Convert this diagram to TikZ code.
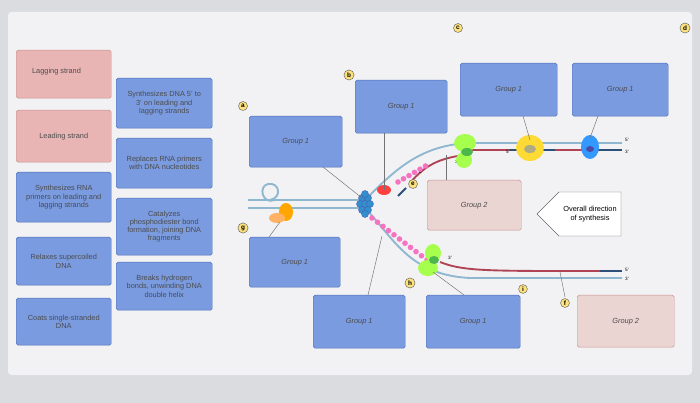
\documentclass[tikz,border=0pt]{standalone}
\usepackage{fontspec}
\setmainfont{Liberation Sans}
\usetikzlibrary{shapes.arrows}
\definecolor{bg}{HTML}{DADCE0}
\definecolor{pnl}{HTML}{F2F2F4}
\definecolor{bbox}{HTML}{7A9BE0}
\definecolor{bbd}{HTML}{4D6FB8}
\definecolor{pbox}{HTML}{E9B4B4}
\definecolor{pbd}{HTML}{C89090}
\definecolor{gbox}{HTML}{EBD5D2}
\definecolor{strand}{HTML}{8FB7CF}
\definecolor{newr}{HTML}{B04455}
\definecolor{newb}{HTML}{2E4F7A}
\begin{document}
\begin{tikzpicture}[x=0.03cm,y=-0.03cm,
 font=\fontsize{6.3}{7}\selectfont,
 blue/.style={draw=bbd,fill=bbox,rounded corners=1.5,align=center,text=black!70,inner sep=1pt},
 pink/.style={draw=pbd,fill=pbox,rounded corners=1.5,align=center,text=black!70},
 grp2/.style={draw=pbd,fill=gbox,rounded corners=1.5,align=center,text=black!70},
 lbl/.style={circle,draw=black!60,fill=yellow!60!orange!50,inner sep=1.2pt,font=\fontsize{5.5}{6}\selectfont\bfseries},
 sm/.style={font=\fontsize{4}{4}\selectfont},
 lead/.style={draw=black!55,line width=0.4pt}]
\fill[bg] (0,0) rectangle (700,403);
\useasboundingbox (0,0) rectangle (700,403);
\fill[pnl,rounded corners=3] (8,12) rectangle (692,375);
% left column
\node[pink,minimum width=95*0.03cm,minimum height=48*0.03cm,anchor=north west] (lag) at (16,50) {};
\node[text=black!70,anchor=north west] at (28,64) {Lagging strand};
\node[pink,minimum width=95*0.03cm,minimum height=52*0.03cm,anchor=north west] (leadn) at (16,110) {Leading strand};
\node[blue,minimum width=95*0.03cm,minimum height=50*0.03cm,anchor=north west] (w1) at (16,172) {Synthesizes RNA\\primers on leading and\\lagging strands};
\node[blue,minimum width=95*0.03cm,minimum height=48*0.03cm,anchor=north west] (w2) at (16,237) {Relaxes supercoiled\\DNA};
\node[blue,minimum width=95*0.03cm,minimum height=47*0.03cm,anchor=north west] (w3) at (16,298) {Coats single-stranded\\DNA};
\node[blue,minimum width=96*0.03cm,minimum height=50*0.03cm,anchor=north west] (w4) at (116,78) {Synthesizes DNA 5' to\\3' on leading and\\lagging strands};
\node[blue,minimum width=96*0.03cm,minimum height=50*0.03cm,anchor=north west] (w5) at (116,138) {Replaces RNA primers\\with DNA nucleotides};
\node[blue,minimum width=96*0.03cm,minimum height=57*0.03cm,anchor=north west] (w6) at (116,198) {Catalyzes\\phosphodiester bond\\formation, joining DNA\\fragments};
\node[blue,minimum width=96*0.03cm,minimum height=48*0.03cm,anchor=north west] (w7) at (116,262) {Breaks hydrogen\\bonds, unwinding DNA\\double helix};
% DNA strands
\draw[strand,line width=1.6pt] (248,200) -- (365,200) .. controls (395,170) and (420,145) .. (470,143) -- (622,143);
\draw[strand,line width=1.6pt] (248,208) -- (365,208) .. controls (395,240) and (410,275) .. (470,278) -- (622,278);
\draw[strand,line width=1.6pt] (275,200) .. controls (262,205) and (258,186) .. (268,184) .. controls (280,182) and (282,198) .. (270,200);
\draw[newr,line width=1.6pt] (470,150) -- (622,150);
\draw[newb,line width=1.6pt] (510,150) -- (555,150);
\draw[newb,line width=1.6pt] (595,150) -- (622,150);
\draw[newr,line width=1.6pt] (410,183) .. controls (425,165) and (440,158) .. (465,155);
\draw[newb,line width=1.6pt] (398,196) -- (406,188);
\draw[newr,line width=1.6pt] (440,262) .. controls (460,270) and (480,271) .. (560,271) -- (600,271);
\draw[newb,line width=1.6pt] (600,271) -- (622,271);
\node[sm] at (627,140) {5'};
\node[sm] at (627,152) {3'};
\node[sm] at (627,270) {5'};
\node[sm] at (627,279) {3'};
\node[sm] at (508,152) {5'};
\node[sm] at (457,162) {3'};
\node[sm] at (421,172) {5'};
\node[sm] at (450,258) {3'};
% proteins
\fill[orange!70!yellow] (286,212) ellipse (7 and 9);
\fill[orange!60] (277,218) ellipse (8 and 5);
\foreach \dx/\dy in {-3/-6,3/-6,-5/0,0/0,5/0,-3/6,3/6,0/-10,0/10}
  \fill[blue!40!cyan!60!gray,draw=blue!40!gray,line width=0.2pt] (365+\dx,204+\dy) circle (3.6);
\fill[red!75] (384,190) ellipse (7 and 5);
\foreach \t in {0,...,5} \fill[magenta!55] ({398+\t*5.5},{182-\t*3.2}) circle (2.8);
\foreach \t in {0,...,10} \fill[magenta!55] ({372+\t*5.5},{218+\t*4.2}) circle (2.8);
\fill[green!50!yellow!70] (465,143) ellipse (11 and 9);
\fill[green!50!yellow!70] (464,160) ellipse (8 and 8);
\fill[green!60!black!70] (467,152) ellipse (6 and 4);
\fill[green!50!yellow!70] (433,253) ellipse (8 and 9);
\fill[green!50!yellow!70] (428,268) ellipse (10 and 8);
\fill[green!60!black!70] (434,260) ellipse (5 and 4);
\fill[yellow!70!orange!80] (530,148) ellipse (14 and 13);
\fill[yellow!40!black!60] (530,149) ellipse (6 and 4);
\fill[blue!50!cyan!80] (590,147) ellipse (9 and 12);
\fill[blue!50!black!70] (590,149) ellipse (4 and 3);
% boxes right
\node[blue,minimum width=93*0.03cm,minimum height=51*0.03cm,anchor=north west] (ba) at (249,116) {\itshape Group 1};
\node[blue,minimum width=92*0.03cm,minimum height=53*0.03cm,anchor=north west] (bb) at (355,80) {\itshape Group 1};
\node[blue,minimum width=97*0.03cm,minimum height=53*0.03cm,anchor=north west] (bc) at (460,63) {\itshape Group 1};
\node[blue,minimum width=96*0.03cm,minimum height=53*0.03cm,anchor=north west] (bd) at (572,63) {\itshape Group 1};
\node[blue,minimum width=91*0.03cm,minimum height=50*0.03cm,anchor=north west] (bg) at (249,237) {\itshape Group 1};
\node[blue,minimum width=92*0.03cm,minimum height=53*0.03cm,anchor=north west] (bh) at (313,295) {\itshape Group 1};
\node[blue,minimum width=94*0.03cm,minimum height=53*0.03cm,anchor=north west] (bi) at (426,295) {\itshape Group 1};
\node[grp2,minimum width=94*0.03cm,minimum height=50*0.03cm,anchor=north west] (be) at (427,180) {\itshape Group 2};
\node[grp2,minimum width=97*0.03cm,minimum height=52*0.03cm,anchor=north west] (bf) at (577,295) {\itshape Group 2};
\node[single arrow,shape border rotate=180,draw=black!60,fill=white,minimum height=84*0.03cm,minimum width=44*0.03cm,single arrow head extend=0pt,align=center,inner sep=1pt] (dir) at (590,214) {Overall direction\\of synthesis};
% leader lines
\coordinate (pa) at (362,198); \coordinate (pb) at (384,190); \coordinate (pc) at (530,140);
\coordinate (pd) at (590,138); \coordinate (pg) at (280,222); \coordinate (ph) at (382,236);
\coordinate (pi) at (433,272); \coordinate (pe) at (446,155); \coordinate (pf) at (560,272);
\draw[lead] (323,167) -- (pa);
\draw[lead] (384,133) -- (pb);
\draw[lead] (523,116) -- (pc);
\draw[lead] (598,116) -- (pd);
\draw[lead] (269,237) -- (pg);
\draw[lead] (368,295) -- (ph);
\draw[lead] (464,295) -- (pi);
\draw[lead] (446,180) -- (pe);
\draw[lead] (565,297) -- (pf);
% letter labels
\node[lbl] (la) at (243,106) {a};
\node[lbl] (lb) at (349,75) {b};
\node[lbl] (lc) at (458,28) {c};
\node[lbl] (ld) at (685,28) {d};
\node[lbl] (le) at (413,184) {e};
\node[lbl] (lf) at (565,303) {f};
\node[lbl] (lg) at (243,228) {g};
\node[lbl] (lh) at (410,283) {h};
\node[lbl] (li) at (523,289) {i};
\end{tikzpicture}
\end{document}
